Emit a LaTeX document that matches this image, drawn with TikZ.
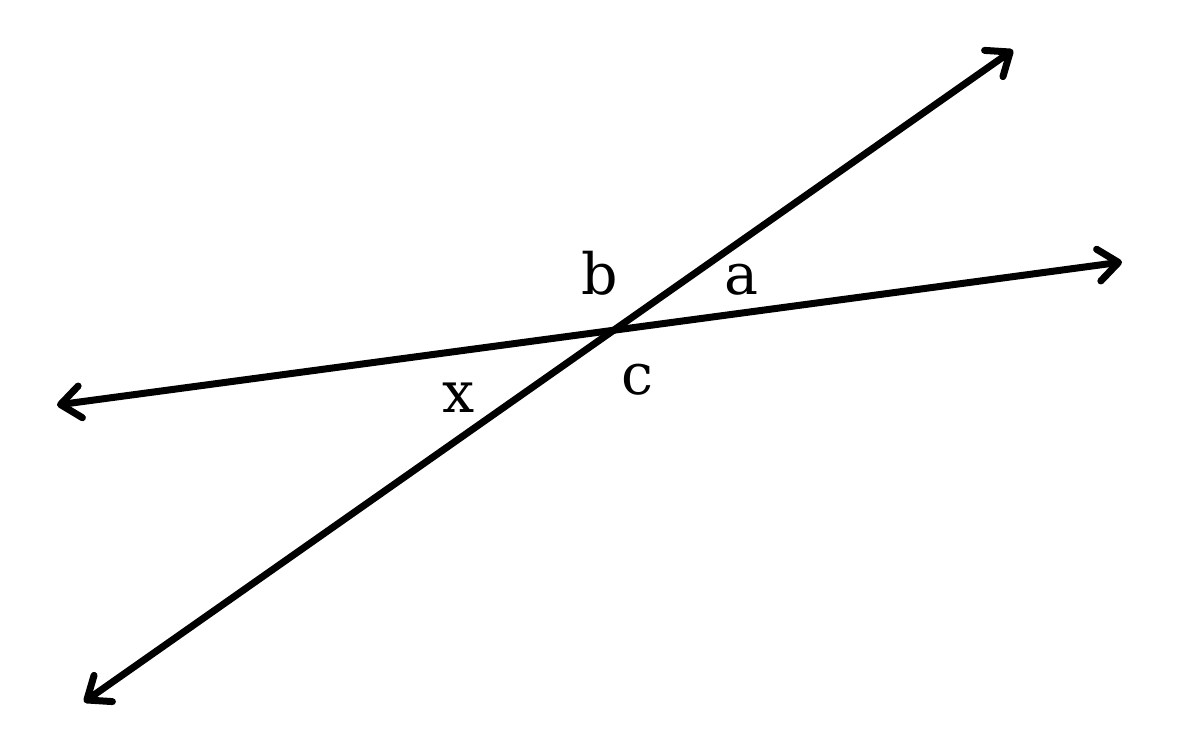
\documentclass[tikz,border=0pt]{standalone}
\usepackage{fontspec}
\setmainfont{DejaVu Serif}
\usetikzlibrary{arrows.meta}
\begin{document}
\begin{tikzpicture}[x=1pt,y=1pt,
  ray/.style={line width=7pt, {Straight Barb[length=20pt,width=32pt,round]}-{Straight Barb[length=20pt,width=32pt,round]}},
  lbl/.style={anchor=base, inner sep=0pt, font=\fontsize{57}{66}\selectfont}]
\useasboundingbox (0,0) rectangle (1200,750);
\coordinate (L1a) at (57,345);
\coordinate (L1b) at (1122,488);
\coordinate (L2a) at (84,48);
\coordinate (L2b) at (1013,700);
\draw[ray] (L1a) -- (L1b);
\draw[ray] (L2a) -- (L2b);
\node[lbl] (b) at (600,455) {b};
\node[lbl] (a) at (741,455) {a};
\node[lbl] (c) at (637,355) {c};
\node[lbl] (x) at (459,337) {x};
\end{tikzpicture}
\end{document}
